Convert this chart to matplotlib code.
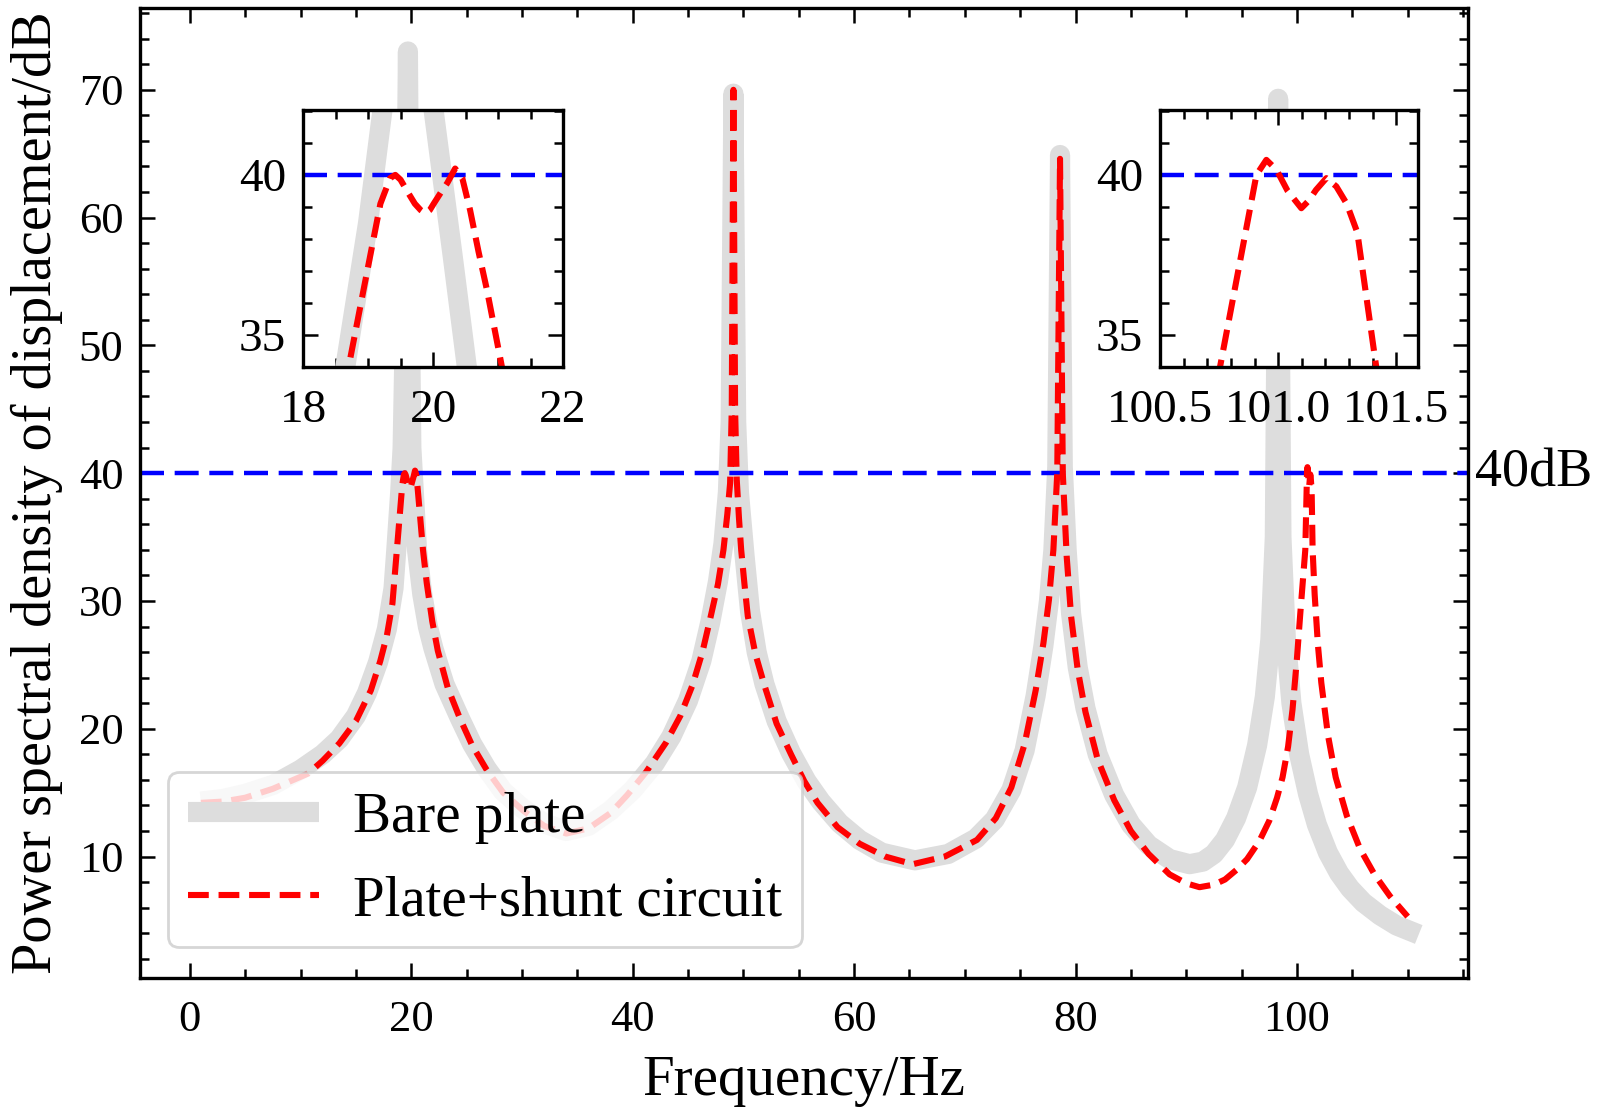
import matplotlib
matplotlib.use('Agg')
import matplotlib.pyplot as plt
import matplotlib.transforms as mtransforms
from matplotlib.ticker import MultipleLocator, FormatStrFormatter

plt.rcParams['font.family'] = ['Liberation Serif', 'DejaVu Serif']

# Bare plate response
bare_freq = [1.0, 3.0, 5.0, 7.5, 10.0, 12.0, 13.5, 15.0, 16.0, 17.0, 17.8, 18.4,
             18.65, 19.0, 19.22, 19.5, 19.7, 19.85, 20.01, 20.3, 20.52, 21.0, 21.5,
             22.0, 23.0, 24.4, 25.5, 26.8, 28.3, 30.0, 32.0, 34.0, 36.0, 38.0, 40.0,
             42.0, 43.5, 45.0, 46.2, 47.0, 47.7, 48.2, 48.6, 48.85, 49.1, 49.35, 49.6,
             50.1, 50.6, 51.2, 51.9, 53.0, 54.3, 55.7, 57.0, 58.7, 60.5, 62.5, 65.5,
             68.5, 71.0, 72.7, 74.2, 75.4, 76.4, 77.1, 77.6, 78.0, 78.35, 78.6, 78.85,
             79.2, 79.6, 80.2, 80.9, 82.0, 83.5, 85.0, 86.6, 88.5, 90.3, 91.5, 92.5,
             93.5, 94.5, 95.5, 96.4, 97.1, 97.6, 98.0, 98.3, 98.6, 99.0, 99.5, 100.2,
             101.0, 101.8, 102.8, 103.8, 104.8, 106.0, 107.5, 109.0, 111.0]
bare_db = [14.3, 14.5, 14.9, 15.6, 16.8, 18.0, 19.2, 21.0, 22.8, 25.2, 27.8, 31.0,
           34.0, 38.5, 42.0, 55.0, 73.0, 55.0, 42.0, 37.5, 34.0, 30.5, 28.0,
           26.3, 23.5, 20.8, 18.8, 16.9, 15.1, 13.8, 12.6, 12.0, 12.4, 13.6, 15.2,
           17.3, 19.4, 22.2, 25.3, 28.3, 31.5, 34.5, 38.5, 44.0, 69.7, 44.0, 38.5,
           33.6, 29.2, 26.0, 23.5, 20.6, 18.1, 15.9, 14.3, 12.6, 11.3, 10.3, 9.7,
           10.2, 11.4, 12.9, 15.2, 18.3, 22.6, 26.5, 30.0, 34.0, 40.5, 64.9, 40.5,
           34.0, 29.0, 24.8, 21.6, 18.0, 14.8, 12.5, 10.9, 9.8, 9.4, 9.6, 10.2,
           11.3, 13.0, 15.4, 18.7, 22.5, 27.0, 35.0, 69.3, 35.0, 27.0, 22.0, 18.0,
           14.9, 12.5, 10.3, 8.7, 7.5, 6.4, 5.4, 4.6, 3.9]

# Plate + shunt circuit response
shunt_freq = [1.0, 3.0, 5.0, 7.5, 10.7, 12.0, 13.5, 15.0, 16.35, 17.2, 17.8, 18.3,
              18.70, 18.93, 19.19, 19.34, 19.42, 19.5, 19.6, 19.72, 19.81, 19.88,
              19.95, 20.01, 20.12, 20.22, 20.34, 20.45, 20.57, 20.7, 20.83, 21.06,
              21.4, 21.9, 22.4, 23.3, 24.4, 25.5, 26.8, 28.3, 30.1, 32.0, 34.0, 36.0,
              38.0, 39.5, 41.2, 43.0, 44.3, 45.4, 46.3, 47.0, 47.7, 48.2, 48.55, 48.8,
              48.95, 49.1, 49.25, 49.4, 49.6, 49.8, 50.1, 50.4, 51.1, 51.9, 53.0, 54.3,
              55.5, 56.7, 58.5, 60.5, 62.8, 65.3, 68.2, 71.1, 72.8, 74.2, 75.4, 76.4,
              77.1, 77.6, 78.0, 78.35, 78.6, 78.85, 79.2, 79.6, 80.2, 80.9, 82.0, 83.5,
              85.0, 86.6, 88.5, 90.0, 91.2, 92.5, 93.5, 94.6, 95.5, 96.6, 97.5, 98.2,
              98.7, 99.2, 99.6, 100.0, 100.3,
              100.754, 100.908, 100.95, 100.993, 101.04, 101.098, 101.13, 101.16,
              101.204, 101.246, 101.29, 101.335, 101.415,
              101.6, 101.9, 102.2, 102.8, 103.5, 104.5, 105.7, 107.0, 108.4, 110.0]
shunt_db = [14.2, 14.3, 14.6, 15.3, 16.5, 17.5, 18.85, 20.6, 23.0, 25.3, 27.3, 29.8,
            34.0, 36.4, 39.1, 39.9, 40.0, 39.85, 39.5, 39.1, 38.9, 38.8,
            38.9, 39.1, 39.45, 39.75, 40.2, 39.9, 38.9, 37.6, 36.4, 34.0,
            31.4, 28.4, 26.1, 23.2, 20.8, 18.7, 16.8, 15.0, 13.6, 12.4, 11.8, 12.2,
            13.4, 14.8, 16.6, 18.9, 21.0, 23.4, 26.0, 28.6, 31.3, 34.0, 36.8, 39.2,
            45.0, 70.0, 45.0, 39.5, 36.5, 34.0, 31.3, 28.8, 25.8, 23.4, 20.4, 18.0,
            15.9, 14.2, 12.3, 11.0, 10.0, 9.4, 10.0, 11.3, 13.0, 15.4, 18.8, 23.0,
            26.7, 30.1, 34.0, 40.0, 64.6, 40.0, 33.5, 28.8, 24.6, 21.3, 17.6, 14.4,
            12.0, 10.2, 8.6, 7.9, 7.6, 7.8, 8.2, 9.0, 9.8, 11.2, 12.8, 14.6,
            16.2, 18.6, 21.5, 25.5, 29.0,
            34.0, 40.0, 40.47, 40.16, 39.5, 38.96, 39.2, 39.53,
            39.9, 39.64, 39.1, 38.2, 34.0,
            30.5, 26.5, 23.6, 19.5, 16.2, 13.2, 10.6, 8.6, 6.9, 5.3]

threshold_db = 40

GRAY = '#dddddd'


def draw_curves(ax):
    ax.plot(bare_freq, bare_db, color=GRAY, lw=14.5, solid_capstyle='butt',
            label='Bare plate')
    ax.axhline(threshold_db, color='blue', lw=3.2, dashes=(5.4, 2.4))
    ax.plot(shunt_freq, shunt_db, color='red', lw=4.4, dashes=(3.4, 1.6),
            label='Plate+shunt circuit')


def style_ticks(ax, size=30):
    ax.tick_params(which='both', direction='in', top=True, right=True,
                   width=1.8, labelsize=size)
    ax.tick_params(which='major', length=11)
    ax.tick_params(which='minor', length=6.5)
    ax.tick_params(axis='x', which='major', pad=16)
    ax.tick_params(axis='y', which='major', pad=12)
    for s in ax.spines.values():
        s.set_linewidth(2.4)


fig = plt.figure(figsize=(16, 11.14), dpi=100)

# main axes
ax = fig.add_axes([0.0875, 0.1225, 0.83, 0.8703])
draw_curves(ax)
ax.set_xlim(-4.5, 115.45)
ax.set_ylim(0.53, 76.4)
ax.xaxis.set_major_locator(MultipleLocator(20))
ax.xaxis.set_minor_locator(MultipleLocator(5))
ax.yaxis.set_major_locator(MultipleLocator(10))
ax.yaxis.set_minor_locator(MultipleLocator(2))
style_ticks(ax, 32)
ax.set_xlabel('Frequency/Hz', fontsize=41)
ax.set_ylabel('Power spectral density of displacement/dB', fontsize=40.5)
ax.xaxis.set_label_coords(0.5, -0.08)
ax.yaxis.set_label_coords(-0.058, 0.5)

trans = mtransforms.blended_transform_factory(ax.transAxes, ax.transData)
ax.text(1.005, threshold_db, '40dB', transform=trans, ha='left', va='center',
        fontsize=39)

leg = ax.legend(loc='lower left', bbox_to_anchor=(0.021, 0.0315), borderaxespad=0,
                fontsize=41, handlelength=2.3, handletextpad=0.6, borderpad=0.35,
                labelspacing=0.55)
leg.get_frame().set_linewidth(2)

# inset around the first mode
ax1 = fig.add_axes([0.1894, 0.6706, 0.1625, 0.2307])
draw_curves(ax1)
ax1.set_xlim(18, 22)
ax1.set_ylim(34, 42.03)
ax1.xaxis.set_major_locator(MultipleLocator(2))
ax1.xaxis.set_minor_locator(MultipleLocator(0.5))
ax1.yaxis.set_major_locator(MultipleLocator(5))
ax1.yaxis.set_minor_locator(MultipleLocator(1))
style_ticks(ax1, 34)

# inset around the fourth mode
ax2 = fig.add_axes([0.725, 0.6706, 0.161, 0.2307])
draw_curves(ax2)
ax2.set_xlim(100.5, 101.59)
ax2.set_ylim(34, 42.03)
ax2.xaxis.set_major_locator(MultipleLocator(0.5))
ax2.xaxis.set_minor_locator(MultipleLocator(0.1))
ax2.xaxis.set_major_formatter(FormatStrFormatter('%.1f'))
ax2.yaxis.set_major_locator(MultipleLocator(5))
ax2.yaxis.set_minor_locator(MultipleLocator(1))
style_ticks(ax2, 34)

fig.savefig('out.png', dpi=100)
